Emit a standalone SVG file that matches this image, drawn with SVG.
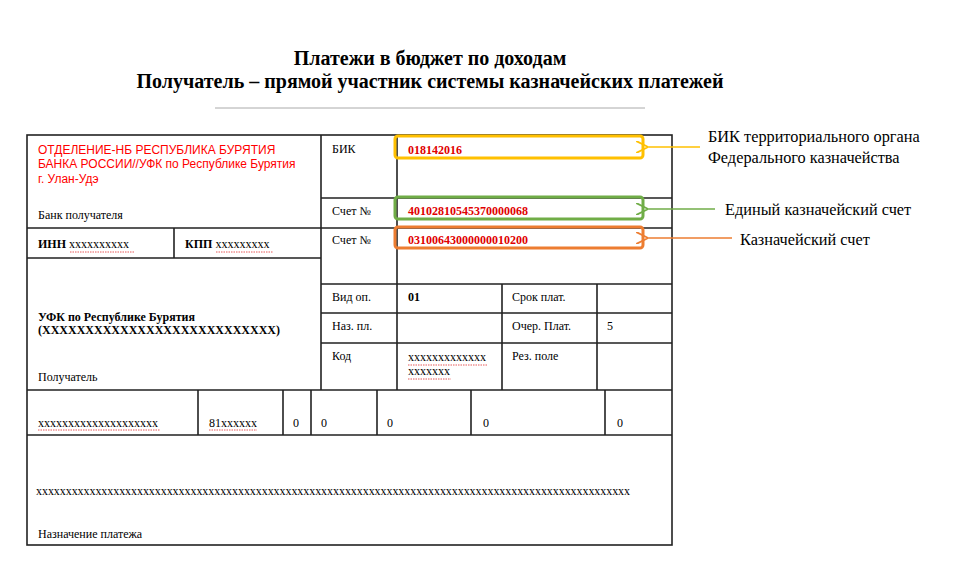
<svg xmlns="http://www.w3.org/2000/svg" width="960" height="570" viewBox="0 0 960 570">
<style>
.t{font-family:"Liberation Serif",serif;font-size:12px;fill:#000}
.b{font-weight:bold}
.r{fill:#e00000;font-weight:bold;font-family:"Liberation Serif",serif;font-size:12px}
.s{font-family:"Liberation Sans",sans-serif;font-size:12px;fill:#ff0000}
.g{stroke:#222;stroke-width:1.6;fill:none}
.w{stroke:#e03030;stroke-width:0.8;fill:none;stroke-dasharray:1.5 1}
.lab{font-family:"Liberation Serif",serif;font-size:16.3px;fill:#000}
</style>
<defs>
<marker id="ay" viewBox="0 0 10 10" refX="1" refY="5" markerWidth="12" markerHeight="12" markerUnits="userSpaceOnUse" orient="auto-start-reverse"><path d="M10,0 L0,5 L10,10" fill="none" stroke="#ffc000" stroke-width="1.5"/></marker>
<marker id="ag" viewBox="0 0 10 10" refX="1" refY="5" markerWidth="12" markerHeight="12" markerUnits="userSpaceOnUse" orient="auto-start-reverse"><path d="M10,0 L0,5 L10,10" fill="none" stroke="#70ad47" stroke-width="1.5"/></marker>
<marker id="ao" viewBox="0 0 10 10" refX="1" refY="5" markerWidth="12" markerHeight="12" markerUnits="userSpaceOnUse" orient="auto-start-reverse"><path d="M10,0 L0,5 L10,10" fill="none" stroke="#ed7d31" stroke-width="1.5"/></marker>
</defs>
<rect width="960" height="570" fill="#fff"/>
<g id="title" font-family="Liberation Serif,serif" font-weight="bold" font-size="20" text-anchor="middle">
<text x="430" y="65">Платежи в бюджет по доходам</text>
<text x="430" y="88">Получатель – прямой участник системы казначейских платежей</text>
</g>
<line x1="215" y1="108" x2="645" y2="108" stroke="#aaa" stroke-width="1"/>
<g id="table">
<rect class="g" x="27" y="135" width="645" height="410"/>
<path class="g" d="M321,135V390M397,135V390M27,228H672M27,258H321M321,198H672M321,284H672M321,313H672M321,343H672M174,228V258M502,284V390M597,284V390M27,390H672M27,435H672M198,390V435M283,390V435M311,390V435M377,390V435M471,390V435M605,390V435"/>
<text class="s" x="38" y="154">ОТДЕЛЕНИЕ-НБ РЕСПУБЛИКА БУРЯТИЯ</text>
<text class="s" x="38" y="168">БАНКА РОССИИ//УФК по Республике Бурятия</text>
<text class="s" x="38" y="183">г. Улан-Удэ</text>
<text class="t" x="38" y="219">Банк получателя</text>
<text class="t b" x="38" y="248">ИНН <tspan font-weight="normal">xxxxxxxxxx</tspan></text>
<text class="t b" x="185" y="248">КПП <tspan font-weight="normal">xxxxxxxxx</tspan></text>
<path class="w" d="M70,252H134M216,252H273"/>
<text class="t b" x="38" y="321">УФК по Республике Бурятия</text>
<text class="t b" x="38" y="334">(XXXXXXXXXXXXXXXXXXXXXXXXXXX)</text>
<text class="t" x="38" y="381">Получатель</text>
<text class="t" x="332" y="153">БИК</text>
<text class="t" x="332" y="215">Счет №</text>
<text class="t" x="332" y="244">Счет №</text>
<text class="r" x="408" y="154">018142016</text>
<text class="r" x="408" y="215">40102810545370000068</text>
<text class="r" x="408" y="244">03100643000000010200</text>
<text class="t" x="332" y="301">Вид оп.</text>
<text class="t b" x="408" y="301">01</text>
<text class="t" x="512" y="301">Срок плат.</text>
<text class="t" x="332" y="330">Наз. пл.</text>
<text class="t" x="512" y="330">Очер. Плат.</text>
<text class="t" x="607" y="330">5</text>
<text class="t" x="332" y="360">Код</text>
<text class="t" x="408" y="361">xxxxxxxxxxxxx</text>
<text class="t" x="408" y="375">xxxxxxx</text>
<path class="w" d="M408,365H488M408,379H451M38,430H160M209,430H257"/>
<text class="t" x="512" y="360">Рез. поле</text>
<text class="t" x="38" y="427">xxxxxxxxxxxxxxxxxxxx</text>
<text class="t" x="209" y="427">81xxxxxx</text>
<text class="t" x="293" y="427">0</text>
<text class="t" x="321" y="427">0</text>
<text class="t" x="387" y="427">0</text>
<text class="t" x="483" y="427">0</text>
<text class="t" x="617" y="427">0</text>
<text class="t" x="36" y="495" textLength="594" lengthAdjust="spacingAndGlyphs">xxxxxxxxxxxxxxxxxxxxxxxxxxxxxxxxxxxxxxxxxxxxxxxxxxxxxxxxxxxxxxxxxxxxxxxxxxxxxxxxxxxxxxxxxxxxxxxxxxxx</text>
<text class="t" x="38" y="538">Назначение платежа</text>
</g>
<g id="highlights" fill="none" stroke-width="3">
<rect x="395" y="136" width="248" height="22" rx="3" stroke="#ffc000"/>
<rect x="395" y="197" width="248" height="22" rx="3" stroke="#70ad47"/>
<rect x="395" y="227" width="248" height="21" rx="3" stroke="#ed7d31"/>
</g>
<g id="connectors" stroke-width="1.5" fill="none">
<line x1="700" y1="147" x2="647" y2="147" stroke="#ffc000" marker-end="url(#ay)"/>
<line x1="715" y1="209" x2="647" y2="209" stroke="#70ad47" marker-end="url(#ag)"/>
<line x1="732" y1="238" x2="647" y2="238" stroke="#ed7d31" marker-end="url(#ao)"/>
</g>
<g id="labels">
<text class="lab" x="708" y="142">БИК территориального органа</text>
<text class="lab" x="708" y="163">Федерального казначейства</text>
<text class="lab" x="725" y="215">Единый казначейский счет</text>
<text class="lab" x="740" y="245">Казначейский счет</text>
</g>
</svg>
